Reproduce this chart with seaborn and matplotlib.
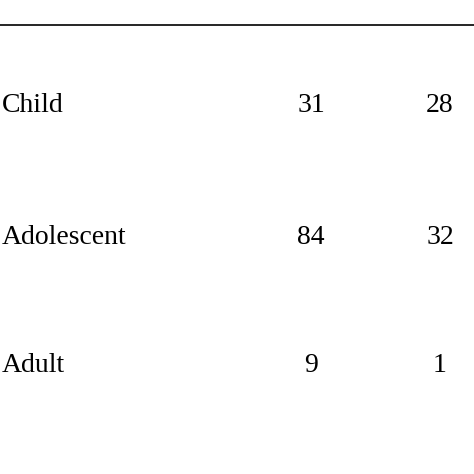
import matplotlib
matplotlib.use("Agg")
import matplotlib.pyplot as plt
import seaborn as sns

categories = ["Child", "Adolescent", "Adult"]
col1 = [31, 84, 9]
col2 = [28, 32, 1]

sns.set_style("white")
plt.rcParams['font.family'] = ['Liberation Serif', 'DejaVu Serif']

fig = plt.figure(figsize=(4.74, 4.74), dpi=100)
ax = fig.add_axes([0, 0, 1, 1])
ax.set_xlim(0, 474)
ax.set_ylim(474, 0)
ax.axis("off")

ax.axhline(25, color="black", lw=1.2)
rows_y = [105, 237, 365]
for y, c, a, b in zip(rows_y, categories, col1, col2):
    ax.text(2, y, c, fontsize=20, ha="left", va="center", color="black")
    ax.text(311, y, str(a), fontsize=20, ha="center", va="center", color="black")
    ax.text(440, y, str(b), fontsize=20, ha="center", va="center", color="black")

fig.savefig("out.png", dpi=100)
